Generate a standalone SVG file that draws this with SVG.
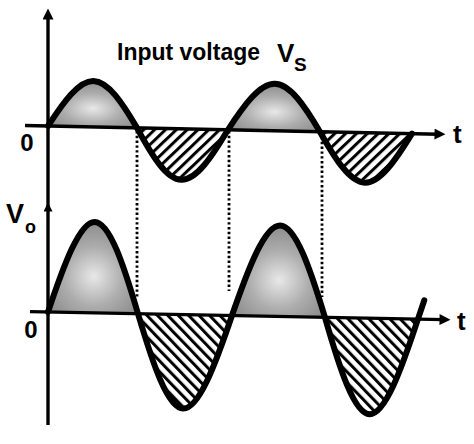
<svg xmlns="http://www.w3.org/2000/svg" width="474" height="444" viewBox="0 0 474 444">
  <style>
    .axis { fill: none; stroke: #000; stroke-width: 3.4; }
    .wave { fill: none; stroke: #000; stroke-width: 6; stroke-linejoin: round; stroke-linecap: round; }
    .gray { fill: url(#grayFill); stroke: none; }
    .hatchA { fill: url(#hatchUp); stroke: none; }
    .hatchB { fill: url(#hatchDown); stroke: none; }
    .guide { fill: none; stroke: #000; stroke-width: 2.8; stroke-dasharray: 2.4 2.4; }
    .lbl { font-family: "Liberation Sans", Arial, sans-serif; font-weight: bold; fill: #000; }
  </style>
  <defs>
    <marker id="arrL" viewBox="0 0 10 10" refX="4" refY="5" markerUnits="userSpaceOnUse" markerWidth="13" markerHeight="11" orient="auto">
      <path d="M0,0 L10,5 L0,10 z" fill="#000"/>
    </marker>
    <marker id="arrS" viewBox="0 0 10 10" refX="4" refY="5" markerUnits="userSpaceOnUse" markerWidth="10" markerHeight="9" orient="auto">
      <path d="M0,0 L10,5 L0,10 z" fill="#000"/>
    </marker>
    <radialGradient id="grayFill" cx="0.5" cy="0.6" r="0.6">
      <stop offset="0" stop-color="#e8e8e8"/>
      <stop offset="0.55" stop-color="#acacac"/>
      <stop offset="1" stop-color="#8c8c8c"/>
    </radialGradient>
    <pattern id="hatchUp" patternUnits="userSpaceOnUse" width="7.5" height="7.5" patternTransform="rotate(45)">
      <rect x="0" y="0" width="3" height="7.5" fill="#000"/>
    </pattern>
    <pattern id="hatchDown" patternUnits="userSpaceOnUse" width="7.5" height="7.5" patternTransform="rotate(-45)">
      <rect x="0" y="0" width="3" height="7.5" fill="#000"/>
    </pattern>
  </defs>

  <!-- vertical axis with both arrowheads -->
  <g id="vertical-axis">
    <path class="axis" d="M48,425 V208 V15" marker-mid="url(#arrS)" marker-end="url(#arrL)"/>
  </g>

  <!-- input voltage wave -->
  <g id="input-wave" transform="translate(48,126) rotate(1.2)">
    <path class="gray" d="M0,0 C14.83,-24.09 29.67,-46 44.5,-46 C59.33,-46 74.17,-24.09 89,0 Z"/>
    <path class="hatchA" d="M89,0 C104.17,26.70 119.33,51 134.5,51 C149.67,51 164.83,26.70 180,0 Z"/>
    <path class="gray" d="M180,0 C195.33,-24.61 210.67,-47 226,-47 C241.33,-47 256.67,-24.61 272,0 Z"/>
    <path class="hatchA" d="M272,0 C287.33,26.18 302.67,50 318,50 C333.33,50 348.67,26.18 364,0 Z"/>
    <path class="axis" d="M-23,0 H391" marker-end="url(#arrL)"/>
    <path class="wave" d="M0,0 C14.83,-24.09 29.67,-46 44.5,-46 C59.33,-46 74.17,-24.09 89,0 C104.17,26.70 119.33,51 134.5,51 C149.67,51 164.83,26.70 180,0 C195.33,-24.61 210.67,-47 226,-47 C241.33,-47 256.67,-24.61 272,0 C287.33,26.18 302.67,50 318,50 C333.33,50 348.67,26.18 364,0"/>
  </g>

  <!-- output voltage wave -->
  <g id="output-wave" transform="translate(48,312) rotate(1.1)">
    <path class="gray" d="M0,0 C15,-47.65 30,-91 45,-91 C60,-91 75,-47.65 90,0 Z"/>
    <path class="hatchB" d="M90,0 C105.67,49.22 121.33,94 137,94 C152.67,94 168.33,49.22 184,0 Z"/>
    <path class="gray" d="M184,0 C199.5,-47.65 215,-91 230.5,-91 C246,-91 261.5,-47.65 277,0 Z"/>
    <path class="hatchB" d="M277,0 C292.5,50.27 308,96 323.5,96 C339,96 354.5,50.27 370,0 Z"/>
    <path class="axis" d="M-18,0 H396" marker-end="url(#arrL)"/>
    <path class="wave" d="M0,0 C15,-47.65 30,-91 45,-91 C60,-91 75,-47.65 90,0 C105.67,49.22 121.33,94 137,94 C152.67,94 168.33,49.22 184,0 C199.5,-47.65 215,-91 230.5,-91 C246,-91 261.5,-47.65 277,0 C292.5,50.27 308,96 323.5,96 C339,96 354.5,50.27 370,0 L376,-19"/>
  </g>

  <!-- dotted guide connectors -->
  <g id="connectors">
    <path class="guide" d="M137,131 V297"/>
    <path class="guide" d="M229,131 V291"/>
    <path class="guide" d="M322,137 V297"/>
  </g>

  <!-- labels -->
  <g id="labels">
    <text class="lbl" x="117" y="60" font-size="23" textLength="143" lengthAdjust="spacingAndGlyphs">Input voltage</text>
    <text class="lbl" x="277" y="62" font-size="26">V</text>
    <text class="lbl" x="294" y="71" font-size="19">S</text>
    <text class="lbl" x="27" y="151" font-size="24" text-anchor="middle">0</text>
    <text class="lbl" x="6" y="223" font-size="27">V</text>
    <text class="lbl" x="25" y="233" font-size="18">o</text>
    <text class="lbl" x="31" y="338" font-size="24" text-anchor="middle">0</text>
    <text class="lbl" x="453" y="143" font-size="26">t</text>
    <text class="lbl" x="457" y="330" font-size="26">t</text>
  </g>
</svg>
